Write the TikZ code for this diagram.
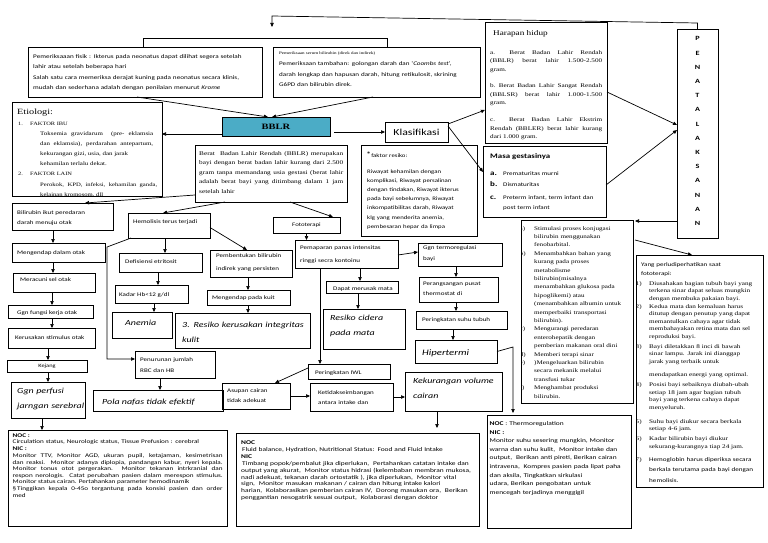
\documentclass[tikz,border=0pt]{standalone}
\usepackage{fontspec}
\setmainfont{Liberation Serif}
\newfontfamily\fS[FakeStretch=1.28]{Carlito}
\newfontfamily\fT[FakeStretch=1.28]{Liberation Serif}
\usetikzlibrary{arrows.meta}
\newcommand\fz[2]{\fontsize{#1}{#2}\selectfont}
\definecolor{bblrblue}{HTML}{4BACC6}
\hyphenpenalty=10000
\exhyphenpenalty=10000
\begin{document}
\begin{tikzpicture}[x=1pt,y=-1pt,
  bx/.style 2 args={draw,line width=0.8pt,anchor=north west,inner sep=0pt,outer sep=0pt,minimum width=#1pt,minimum height=#2pt},
  tx/.style={anchor=base west,inner sep=0pt,align=left},
  ar/.style={-{Triangle[length=4pt,width=3.4pt]},line width=0.7pt},
  ln/.style={line width=0.7pt},
  sm/.style={font=\fS\fz{5.5}{10.5}},
  it/.style={font=\fS\itshape\fz{7.8}{15}},
]
\fill[white] (0,0) rectangle (768,543);
\useasboundingbox (0,0) rectangle (768,543);

% ---------- boxes ----------
\node[bx={234}{50}] (top1) at (28,47) {};
\node[bx={207}{50}] (top2) at (273,47) {};
\node[bx={150}{94}] (etio) at (12,102) {};
\node[bx={108}{19},fill=bblrblue,font=\fT\bfseries\fz{8.2}{10}] (bblr) at (222,117) {BBLR};
\node[bx={63}{20},font=\fS\fz{9.2}{10}] (klas) at (385,122) {Klasifikasi};
\node[bx={122}{121}] (harap) at (485,22) {};
\node[bx={41}{209}] (pena) at (677,29) {};
\node[bx={152}{57}] (def) at (195,145) {};
\node[bx={116}{91}] (faktor) at (361,145) {};
\node[bx={123}{71}] (masa) at (483,146) {};
\node[bx={101}{27}] (bili) at (12,203) {};
\node[bx={93}{19}] (meng) at (12,243) {};
\node[bx={82}{19}] (racun) at (13,273) {};
\node[bx={85}{13}] (ggnf) at (8,305) {};
\node[bx={87}{20}] (kerus) at (8,328) {};
\node[bx={80}{12},font=\fS\fz{5}{6}] (kejang) at (7,360) {Kejang};
\node[bx={74}{36}] (perfusi) at (11,382) {};
\node[bx={219}{96}] (noc1) at (8,430) {};
\node[bx={82}{25}] (hemo) at (128,213) {};
\node[bx={83}{19}] (defi) at (119,253) {};
\node[bx={73}{18}] (hb) at (115,285) {};
\node[bx={60}{26}] (anemia) at (112,312) {};
\node[bx={135}{35}] (resiko) at (175,313) {};
\node[bx={80}{27}] (penur) at (135,351) {};
\node[bx={130}{21}] (pola) at (93,390) {};
\node[bx={82}{27}] (pemb) at (210,250) {};
\node[bx={83}{15}] (mengk) at (207,290) {};
\node[bx={67}{16},font=\fS\fz{5.3}{6}] (foto) at (273,217) {Fototerapi};
\node[bx={103}{28}] (pemap) at (295,240) {};
\node[bx={84}{23}] (ggnt) at (418,243) {};
\node[bx={72}{12}] (merusak) at (326,281) {};
\node[bx={82}{40}] (cidera) at (323,309) {};
\node[bx={79}{25}] (perang) at (419,277) {};
\node[bx={91}{18}] (suhu) at (416,311) {};
\node[bx={82}{23}] (hiper) at (415,340) {};
\node[bx={82}{15}] (iwl) at (308,364) {};
\node[bx={68}{26}] (asupan) at (222,383) {};
\node[bx={83}{28}] (ketid) at (310,383) {};
\node[bx={97}{39}] (kekur) at (405,372) {};
\node[bx={243}{93}] (noc2) at (236,433) {};
\node[bx={112}{183}] (stim) at (521,220) {};
\node[bx={127}{232}] (yang) at (636,255) {};
\node[bx={144}{113}] (noc3) at (487,415) {};

% ---------- texts ----------
\node[tx,text width=232pt,font=\fS\fz{5.6}{10.3}] at (33,58.5) {Pemeriksaaan fisik : Ikterus pada neonatus dapat dilihat segera setelah\\ lahir atau setelah beberapa hari\\ Salah satu cara memeriksa derajat kuning pada neonatus secara klinis,\\ mudah dan sederhana adalah dengan penilaian menurut \textit{Krome}};
\node[tx,font=\fT\fz{3.9}{5}] at (279,55) {Pemeriksaan serum bilirubin (direk dan indirek)};
\node[tx,text width=200pt,font=\fS\fz{5.55}{10.6}] at (279,65.5) {Pemeriksaan tambahan: golongan darah dan ‘\textit{Coombs test}’,\\ darah lengkap dan hapusan darah, hitung retikulosit, skrining\\ G6PD dan bilirubin direk.};

% Etiologi
\node[tx,font=\fT\fz{8}{9}] at (17,114) {Etiologi:};
\node[tx,font=\fT\fz{5}{6}] at (18,125.5) {1.};
\node[tx,font=\fT\fz{5}{6}] at (30,125.5) {FAKTOR IBU};
\node[tx,align=justify,text width=113pt,font=\fT\fz{5.4}{10}] at (40,135.5) {Toksemia gravidarum\ \ (pre- eklamsia\linebreak dan eklamsia), perdarahan antepartum,\linebreak kekurangan gizi, usia, dan jarak\newline kehamilan terlalu dekat.};
\node[tx,font=\fT\fz{5}{6}] at (18,175.5) {2.};
\node[tx,font=\fT\fz{5}{6}] at (30,175.5) {FAKTOR LAIN};
\begin{scope}
\clip (12,102) rectangle (162,195);
\node[tx,align=justify,text width=117pt,font=\fT\fz{5.2}{10.5}] at (40,186) {Perokok, KPD, infeksi, kehamilan ganda,\linebreak kelainan kromosom, dll};
\end{scope}

% Harapan hidup
\node[tx,font=\fT\fz{7.2}{8}] at (493,35.5) {Harapan hidup};
\node[tx,align=justify,text width=112pt,font=\fT\fz{5.6}{8.5}] at (490,54.5) {a.\ \ Berat Badan Lahir Rendah\linebreak (BBLR) berat lahir 1.500-2.500\linebreak gram.};
\node[tx,align=justify,text width=112pt,font=\fT\fz{5.6}{8.5}] at (490,88) {b.\ Berat Badan Lahir Sangat Rendah\linebreak (BBLSR) berat lahir 1.000-1.500\linebreak gram.};
\node[tx,align=justify,text width=112pt,font=\fT\fz{5.6}{8.5}] at (490,121.5) {c.\ \ Berat Badan Lahir Ekstrim\linebreak Rendah (BBLER) berat lahir kurang\linebreak dari 1.000 gram.};

% PENATALAKSANAAN
\node[font=\fS\bfseries\fz{6.4}{14.2},align=center,text width=30pt,anchor=base,inner sep=0pt] at (697.5,41) {P\\E\\N\\A\\T\\A\\L\\A\\K\\S\\A\\N\\A\\N};

% definition
\node[tx,align=justify,text width=144pt,font=\fT\fz{5.7}{9.5}] at (199,155) {Berat\ \ Badan Lahir Rendah (BBLR) merupakan\linebreak bayi dengan berat badan lahir kurang dari 2.500\linebreak gram tanpa memandang usia gestasi (berat lahir\linebreak adalah berat bayi yang ditimbang dalam 1 jam\linebreak setelah lahir};

% faktor resiko
\node[tx,font=\fS\fz{5.3}{9.2}] at (366,157) {{\fz{8}{8}*}faktor resiko:};
\node[tx,text width=108pt,font=\fS\fz{5.3}{9.2}] at (367,173) {Riwayat kehamilan dengan\\ komplikasi, Riwayat persalinan\\ dengan tindakan, Riwayat ikterus\\ pada bayi sebelumnya, Riwayat\\ inkompatibilitas darah, Riwayat\\ klg yang menderita anemia,\\ pembesaran hepar da limpa};

% Masa gestasinya
\node[tx,font=\fS\bfseries\fz{6.9}{8}] at (490,158) {Masa gestasinya};
\node[tx,font=\fS\bfseries\fz{7}{8}] at (490,175) {a.};
\node[tx,font=\fS\bfseries\fz{7}{8}] at (490,186.5) {b.};
\node[tx,font=\fS\bfseries\fz{7}{8}] at (490,199) {c.};
\node[tx,font=\fS\fz{5.5}{10.5}] at (503,175) {Prematuritas murni};
\node[tx,font=\fS\fz{5.5}{10.5}] at (503,186.5) {Dismaturitas};
\node[tx,text width=100pt,font=\fS\fz{5.5}{10.5}] at (503,199) {Preterm infant, term infant dan\\ post term infant};

% left chain
\node[tx,sm,text width=95pt] at (17,214) {Bilirubin ikut peredaran\\ darah menuju otak};
\node[tx,sm] at (17,254.5) {Mengendap dalam otak};
\node[tx,sm] at (20,281.5) {Meracuni sel otak};
\node[tx,sm] at (17,314.5) {Ggn fungsi kerja otak};
\node[tx,sm] at (15,339.5) {Kerusakan stimulus otak};
\node[tx,it,text width=72pt] at (17,393) {Ggn perfusi\\ jarngan serebral};

% middle chain
\node[tx,sm] at (133,223.5) {Hemolisis terus terjadi};
\node[tx,sm] at (125,263.5) {Defisiensi etritosit};
\node[tx,sm] at (119,296) {Kadar Hb<12 g/dl};
\node[tx,it] at (125,325.5) {Anemia};
\node[tx,it,text width=132pt] at (182,327) {3. Resiko kerusakan integritas\\ kulit};
\node[tx,sm,text width=75pt] at (140,361.5) {Penurunan jumlah\\ RBC dan HB};
\node[tx,it] at (102,404) {Pola nafas tidak efektif};
\node[tx,text width=80pt,font=\fS\fz{5.5}{12.5}] at (216,257.5) {Pembentukan bilirubin\\ indirek yang persisten};
\node[tx,sm] at (212,299.5) {Mengendap pada kuit};
\node[tx,text width=100pt,font=\fS\fz{5.5}{12.5}] at (300,249.5) {Pemaparan panas intensitas\\ ringgi secra kontoinu};
\node[tx,text width=80pt,font=\fS\fz{5.5}{10.5}] at (423,249.5) {Ggn termoregulasi\\ bayi};
\node[tx,sm] at (333,290) {Dapat merusak mata};
\node[tx,it,text width=80pt] at (330,320.5) {Resiko cidera\\ pada mata};
\node[tx,text width=78pt,font=\fS\fz{5.5}{9.5}] at (423,285.5) {Perangsangan pusat\\ thermostat di};
\node[tx,sm] at (422,321.5) {Peringkatan suhu tubuh};
\node[tx,font=\fS\itshape\fz{8.4}{10}] at (422,355) {Hipertermi};
\node[tx,sm] at (315,374) {Peringkatan IWL};
\node[tx,text width=66pt,font=\fS\fz{5.5}{10}] at (227,392.5) {Asupan cairan\\ tidak adekuat};
\node[tx,text width=80pt,font=\fS\fz{5.5}{10}] at (318,394.5) {Ketidakseimbangan\\ antara intake dan};
\node[tx,it,text width=95pt] at (413,383) {Kekurangan volume\\ cairan};

% Stimulasi list
\begin{scope}
\clip (521,220) rectangle (633,403);
\foreach \lab/\yy in {a)/230, b)/255.2, c)/330.8, d)/356, e)/364.4, f)/389.6}
  \node[tx,font=\fT\fz{5.55}{8.4}] at (519.5,\yy) {\lab};
\end{scope}
\node[tx,text width=98pt,font=\fT\fz{5.55}{8.4}] at (534,230) {Stimulasi proses konjugasi\\ bilirubin menggunakan\\ fenobarbital.\\ Menambahkan bahan yang\\ kurang pada proses\\ metabolisme\\ bilirubin(misalnya\\ menambahkan glukosa pada\\ hipoglikemi) atau\\ (menambahkan albumin untuk\\ memperbaiki transportasi\\ bilirubin).\\ Mengurangi peredaran\\ enterohepatik dengan\\ pemberian makanan oral dini\\ Memberi terapi sinar\\ )Mengeluarkan bilirubin\\ secara mekanik melalui\\ transfusi tukar\\ Menghambat produksi\\ bilirubin.};

% Yang perlu diperhatikan
\node[tx,text width=115pt,font=\fS\fz{5.5}{9.3}] at (641,266) {Yang perludiperhatikan saat\\ fototerapi:};
\begin{scope}
\clip (636,255) rectangle (763,487);
\foreach \lab/\yy in {1)/285, 2)/308, 3)/348, 4)/386.5, 5)/423, 6)/440.5, 7)/461}
  \node[tx,font=\fT\fz{5.6}{7.6}] at (635.5,\yy) {\lab};
\end{scope}
\node[tx,text width=112pt,font=\fT\fz{5.6}{7.6}] at (649,285) {Diusahakan bagian tubuh bayi yang\\ terkena sinar dapat seluas mungkin\\ dengan membuka pakaian bayi.};
\node[tx,text width=112pt,font=\fT\fz{5.6}{7.6}] at (649,308) {Kedua mata dan kemaluan harus\\ ditutup dengan penutup yang dapat\\ memantulkan cahaya agar tidak\\ membahayakan retina mata dan sel\\ reproduksi bayi.};
\node[tx,text width=112pt,font=\fT\fz{5.6}{7.6}] at (649,348) {Bayi diletakkan 8 inci di bawah\\ sinar lampu. Jarak ini dianggap\\ jarak yang terbaik untuk};
\node[tx,font=\fT\fz{5.6}{7.6}] at (649,376) {mendapatkan energi yang optimal.};
\node[tx,text width=112pt,font=\fT\fz{5.6}{7.6}] at (649,386.5) {Posisi bayi sebaiknya diubah-ubah\\ setiap 18 jam agar bagian tubuh\\ bayi yang terkena cahaya dapat\\ menyeluruh.};
\node[tx,text width=112pt,font=\fT\fz{5.6}{7.6}] at (649,423) {Suhu bayi diukur secara berkala\\ setiap 4-6 jam.};
\node[tx,text width=112pt,font=\fT\fz{5.6}{7.6}] at (649,440.5) {Kadar bilirubin bayi diukur\\ sekurang-kurangnya tiap 24 jam.};
\node[tx,text width=112pt,font=\fS\fz{5.6}{10.5}] at (649,461) {Hemoglobin harus diperiksa secara\\ berkala terutama pada bayi dengan\\ hemolisis.};

% NOC boxes
\node[tx,text width=212pt,font=\fS\fz{5.6}{6.6}] at (12.5,437) {\textbf{NOC :}\\ Circulation status, Neurologic status, Tissue Prefusion : cerebral\\ \textbf{NIC :}};
\node[tx,align=justify,text width=210pt,font=\fS\fz{5.6}{6.6}] at (12.5,457.5) {Monitor TTV, Monitor AGD, ukuran pupil, ketajaman, kesimetrisan\linebreak dan reaksi. Monitor adanya diplopia, pandangan kabur, nyeri kepala.\linebreak Monitor tonus otot pergerakan.\ \ Monitor tekanan intrkranial dan\linebreak respon nerologis.\ \ Catat perubahan pasien dalam merespon stimulus.\linebreak Monitor status cairan. Pertahankan parameter hemodinamik\par §\,Tinggikan kepala 0-45o tergantung pada konsisi pasien dan order\linebreak med};
\node[tx,text width=240pt,font=\fS\fz{5.8}{6.9}] at (241,444.5) {\textbf{NOC}\\ \hspace*{1pt}Fluid balance, Hydration, Nutritional Status: Food and Fluid Intake\\ \textbf{NIC}\\ \hspace*{1pt}Timbang popok/pembalut jika diperlukan,\ \ Pertahankan catatan intake dan\\ output yang akurat,\ \ Monitor status hidrasi (kelembaban membran mukosa,\\ nadi adekuat, tekanan darah ortostatik ), jika diperlukan,\ \ Monitor vital\\ sign,\ \ Monitor masukan makanan / cairan dan hitung intake kalori\\ harian,\ \ Kolaborasikan pemberian cairan IV,\ \ Dorong masukan ora,\ \ Berikan\\ penggantian nesogatrik sesuai output,\ \ Kolaborasi dengan doktor};
\node[tx,text width=140pt,font=\fS\fz{5.8}{8.6}] at (489.5,425.5) {\textbf{NOC} : Thermoregulation\\ \textbf{NIC :}\\ Monitor suhu sesering mungkin, Monitor\\ warna dan suhu kulit,\ \ Monitor intake dan\\ output,\ \ Berikan anti pireti, Berikan cairan\\ intravena,\ \ Kompres pasien pada lipat paha\\ dan aksila, Tingkatkan sirkulasi\\ udara, Berikan pengobatan untuk\\ mencegah terjadinya menggigil};

% ---------- connectors ----------
\draw[ln] ([xshift=115pt]top1.north west) -- ++(0,-9) -| ([xshift=114pt]top2.north west);
\coordinate (pa) at (272,16);
\coordinate (pb) at (272,27);
\draw[ar] (pena.north) -- ++(0,-6) -- (pa) -- (pb);
\draw[ar] ([xshift=109pt]top1.south west) -- ([xshift=46pt]bblr.north west);
\draw[ar] ([xshift=100pt]top2.south west) -- ([xshift=50pt]bblr.north west);
\draw[ar] ([yshift=-7.5pt]bblr.west) -- ([yshift=-7.5pt]bblr.west -| etio.east);
\draw[ar] ([xshift=4pt]bblr.east |- klas.west) -- (klas.west);
\draw[ar] ([yshift=-2pt]klas.north east) -- ([yshift=-88pt]harap.north west);
\draw[ar] ([yshift=-4pt]klas.north east) -- ([yshift=-26pt]masa.north west);
\draw[ar] ([yshift=-70pt]harap.north east) -- ([yshift=-96pt]pena.north west);
\draw[ar] ([yshift=-39pt]masa.north east) -- ([yshift=-101pt]pena.north west);
\draw[ar] ([yshift=-192pt]pena.north west) -- ([yshift=-1pt,xshift=2pt]stim.north east);
\draw[ar] ([yshift=-20pt,xshift=2pt]stim.north east) -- ([xshift=56pt]yang.north west);
\draw[ar] ([yshift=-50pt]def.north west) -- ([xshift=73pt]bili.north west);
\draw[ar] ([xshift=30pt]def.south west) -- ([xshift=35pt]hemo.north west);
\draw[ar] ([xshift=95pt]def.south west) -- ([xshift=60pt]foto.north west);
\draw[ar] (foto.south) -- (foto.south |- pemap.north);
\draw[ar] ([yshift=-2pt]hemo.east) -- ([xshift=37pt]pemb.north west);
\coordinate (h1) at (107,247);
\coordinate (h2) at (107,359);
\draw[ar] ([xshift=3pt]hemo.south west) -- (h1) -- (h2) -- (h2 -| penur.west);
% vertical chains
\draw[ar] ([xshift=41pt]bili.south west) -- ([xshift=41pt]meng.north west);
\draw[ar] ([xshift=41pt]meng.south west) -- ([xshift=40pt]racun.north west);
\draw[ar] ([xshift=39pt]racun.south west) -- ([xshift=44pt]ggnf.north west);
\draw[ar] ([xshift=44pt]ggnf.south west) -- ([xshift=44pt]kerus.north west);
\draw[ar] ([xshift=40pt]kerus.south west) -- ([xshift=41pt]kejang.north west);
\draw[ar] ([xshift=41pt]kejang.south west) -- ([xshift=37pt]perfusi.north west);
\draw[ar] ([xshift=31pt]perfusi.south west) -- ([xshift=34pt]noc1.north west);
\draw[ar] ([xshift=37pt]hemo.south west) -- ([xshift=46pt]defi.north west);
\draw[ar] ([xshift=39pt]defi.south west) -- ([xshift=43pt]hb.north west);
\draw[ar] ([xshift=39pt]hb.south west) -- ([xshift=42pt]anemia.north west);
\draw[ar] ([xshift=38pt]pemb.south west) -- ([xshift=41pt]mengk.north west);
\draw[ar] ([xshift=41pt]mengk.south west) -- ([xshift=73pt]resiko.north west);
\draw[ar] ([xshift=25pt]penur.south west) -- ([xshift=67pt]pola.north west);
\draw[ar] ([xshift=65pt]pemap.south west) -- ([xshift=34pt]merusak.north west);
\draw[ar] ([xshift=32pt]merusak.south west) -- ([xshift=35pt]cidera.north west);
\draw[ar] ([xshift=25pt]pemap.south west) -- ([xshift=12pt]iwl.north west);
\draw[ar] ([xshift=38pt]ggnt.south west) -- ([xshift=37pt]perang.north west);
\draw[ar] ([xshift=37pt]perang.south west) -- ([xshift=40pt]suhu.north west);
\draw[ar] ([xshift=37pt]suhu.south west) -- ([xshift=38pt]hiper.north west);
\draw[ar,shorten >=5pt] ([xshift=32pt]kekur.south west) -- ([xshift=201pt]noc2.north west);
\draw[ar] ([yshift=-15pt]pemap.north east) -- ([yshift=-9pt]ggnt.north west);
\draw[ar] ([yshift=-4pt]iwl.north west) -- ([xshift=53pt]asupan.north west);
\draw[ar] (asupan.east) -- (asupan.east -| ketid.west);
\draw[ar] (ketid.east) -- (ketid.east -| kekur.west);
\coordinate (k1) at (513,347);
\draw[ar,shorten >=2pt] (hiper.east) -- (k1) -- (k1 |- noc3.north);
\end{tikzpicture}
\end{document}
